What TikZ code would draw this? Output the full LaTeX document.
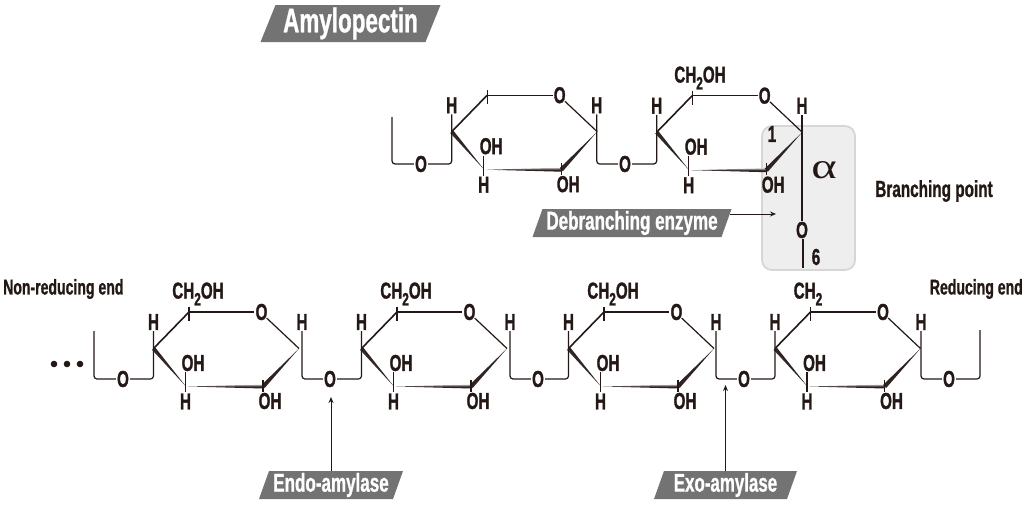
\documentclass[tikz,border=0pt]{standalone}
\usepackage{fontspec}
\usetikzlibrary{arrows.meta,calc}
\newfontfamily\chemfont[FakeStretch=.66,FakeBold=1.3]{Liberation Sans}
\newfontfamily\labfont[FakeStretch=.66,FakeBold=.9]{Liberation Sans}
\newfontfamily\grkfont[FakeStretch=1.35]{Liberation Serif}
\definecolor{ink}{HTML}{231815}
\definecolor{tagfill}{HTML}{737373}
\definecolor{boxfill}{HTML}{EEEEEE}
\newcommand{\subtwo}{\raisebox{-.3em}{\fontsize{18}{18}\selectfont 2}}
\newcommand{\tagbox}[8]{%
  \fill[tagfill,shift={(#2,#3)}] (-#4/2-#6/2,#5/2) -- (-#4/2+#6/2,-#5/2) -- (#4/2+#6/2,-#5/2) -- (#4/2-#6/2,#5/2) -- cycle;
  \node[tagtext,minimum width=#4,minimum height=#5,font=\labfont\bfseries\fontsize{#7}{#7}\selectfont] (#1) at (#2,#3) {#8};}
\tikzset{
  atom/.style={inner sep=1pt,text=ink,font=\chemfont\bfseries\fontsize{23}{23}\selectfont},
  plain/.style={inner sep=0pt,text=ink,font=\labfont\bfseries\fontsize{21.3}{21.3}\selectfont},
  tagtext/.style={inner sep=0pt,text=white},
  bond/.style={draw=ink,line width=1.2pt},
  arrowline/.style={draw=ink,line width=1pt,-{Stealth[length=6pt,width=5pt]}},
  wedgefill/.style={left color=ink!30,right color=ink,middle color=ink!95},
  pics/glu/.style={code={
    \coordinate (-L) at (0,0);
    \coordinate (-T) at (35.5,-36.5);
    \coordinate (-R) at (145.5,0);
    \coordinate (-BL) at (32.5,38);
    \coordinate (-BR) at (109.5,38);
    \node[atom] (-O) at (108,-36.5) {O};
    \node[atom] (-Hl) at (0,-26.5) {H};
    \node[atom] (-Hr) at (#1,-26.5) {H};
    \node[atom] (-OHi) at (39.5,14.5) {OH};
    \node[atom] (-Hb) at (32,53) {H};
    \node[atom] (-OHb) at (116.5,52.5) {OH};
    \draw[bond,line width=1.6pt] (-L) -- (-T);
    \draw[bond] (-T) -- (-O.west);
    \draw[bond] ($(-T)+(0,-5)$) -- ($(-T)+(0,9)$);
    \draw[bond] (-O.east) ++(-2,6) -- (-R);
    \shade[wedgefill,shading angle=130]
      (1.5,-1.3) -- (-BL) -- (-1.5,1.3) -- cycle;
    \shade[wedgefill,shading angle=0]
      ($(-BL)+(2,0)$) -- ($(-BR)+(0,-2)$) -- ($(-BR)+(0,2)$) -- cycle;
    \shade[wedgefill,shading angle=227]
      (-R) -- ($(-BR)+(1.6,1.6)$) -- ($(-BR)+(-1.4,-1.6)$) -- cycle;
    \draw[bond] (-OHi.south -| -Hb) -- (-Hb.north);
    \draw[bond] ($(-BR)+(0,-7)$) -- (-BR |- -OHb.north);
  }}
}
\begin{document}
\begin{tikzpicture}[x=1pt,y=-1pt]
\useasboundingbox (0,0) rectangle (1024,506);
% highlighted branching box
\draw[draw=black!16,line width=1.8pt,fill=boxfill,rounded corners=10pt] (762,126) rectangle (855,270);

% title and enzyme tags
\tagbox{title}{350.5}{23.5}{165}{37}{15}{34}{Amylopectin}
\tagbox{debranch}{632}{223}{189}{28}{10}{25.8}{Debranching enzyme}
\tagbox{endo}{331}{485}{134}{28}{10}{25.8}{Endo-amylase}
\tagbox{exo}{725.5}{485}{133}{28}{10}{25.6}{Exo-amylase}

% upper chain
\pic (u1) at (451.7,131.7) {glu=145};
\pic (u2) at (656.7,132.2) {glu=145.3};
\node[atom] (u2top) at (700,78) {CH\subtwo OH};
\node[atom] (uo1) at (421,164) {O};
\node[atom] (uo2) at (625,164) {O};
\coordinate (ustart) at (392,117);
\draw[bond,rounded corners=3pt] (ustart) |- (uo1.west);
\draw[bond,rounded corners=3pt] (uo1.east) -| (u1-Hl.south);
\draw[bond,rounded corners=3pt] (u1-Hr.south) |- (uo2.west);
\draw[bond,rounded corners=3pt] (uo2.east) -| (u2-Hl.south);

% branch
\node[atom] (bo) at (802,230) {O};
\node[atom] (one) at (772,134) {1};
\node[atom] (six) at (816,257) {6};
\node[inner sep=0pt,text=ink,font=\grkfont\fontsize{36}{36}\selectfont] (alpha) at (824,170) {α};
\coordinate (bend) at (803,268);
\draw[bond] (u2-Hr.south) -- (bo.north);
\draw[bond] (bo.south -| bend) -- (bend);
\node[plain,font=\labfont\bfseries\fontsize{23.2}{23.2}\selectfont] (bp) at (934,191) {Branching point};
\coordinate (dtip) at (776,214);
\draw[arrowline] (debranch.east |- dtip) ++(3,0) -- (dtip);

% lower chain
\pic (r1) at (153.5,348.5) {glu=148.5};
\pic (r2) at (361.5,348.5) {glu=148.5};
\pic (r3) at (568.5,348.5) {glu=147.5};
\pic (r4) at (775,348.5) {glu=146};
\node[atom] (t1) at (198,294) {CH\subtwo OH};
\node[atom] (t2) at (406,294) {CH\subtwo OH};
\node[atom] (t3) at (613,294) {CH\subtwo OH};
\node[atom] (t4) at (808,294) {CH\subtwo};
\node[atom] (o1) at (123,379) {O};
\node[atom] (o2) at (330,379) {O};
\node[atom] (o3) at (538,379) {O};
\node[atom] (o4) at (744,379) {O};
\node[atom] (o5) at (949,379) {O};
\coordinate (lstart) at (94,331);
\coordinate (rend) at (980,330);
\draw[bond,rounded corners=3pt] (lstart) |- (o1.west);
\draw[bond,rounded corners=3pt] (o1.east) -| (r1-Hl.south);
\draw[bond,rounded corners=3pt] (r1-Hr.south) |- (o2.west);
\draw[bond,rounded corners=3pt] (o2.east) -| (r2-Hl.south);
\draw[bond,rounded corners=3pt] (r2-Hr.south) |- (o3.west);
\draw[bond,rounded corners=3pt] (o3.east) -| (r3-Hl.south);
\draw[bond,rounded corners=3pt] (r3-Hr.south) |- (o4.west);
\draw[bond,rounded corners=3pt] (o4.east) -| (r4-Hl.south);
\draw[bond,rounded corners=3pt] (r4-Hr.south) |- (o5.west);
\draw[bond,rounded corners=3pt] (o5.east) -| (rend);

% dots and end labels
\fill[ink] (54,364) circle (3.3) (67,364) circle (3.3) (80,364) circle (3.3);
\node[plain,anchor=west] (nre) at (3,289) {Non-reducing end};
\node[plain,anchor=east] (re) at (1023,289) {Reducing end};

% enzyme arrows
\coordinate (endotip) at (331,397);
\coordinate (exotip) at (725.5,385);
\draw[arrowline] (endo.north) -- (endotip);
\draw[arrowline] (exo.north) -- (exotip);
\end{tikzpicture}
\end{document}
